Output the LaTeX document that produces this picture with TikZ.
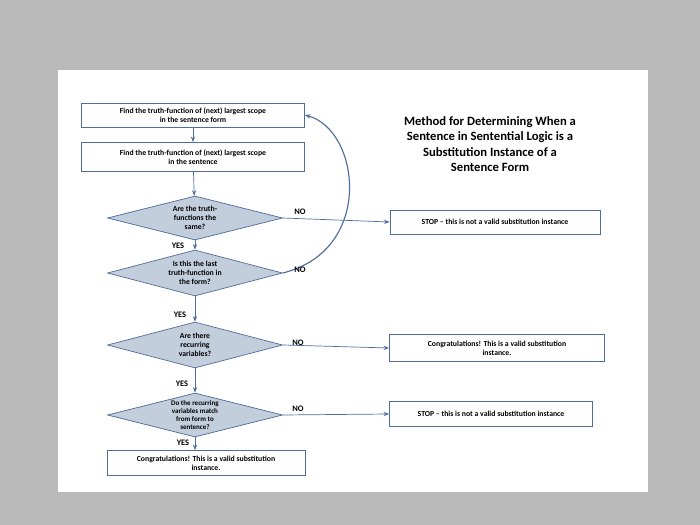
\documentclass[tikz,border=0pt]{standalone}
\usepackage{fontspec}
\setmainfont{Carlito}
\usetikzlibrary{shapes.geometric,arrows.meta}
\definecolor{ln}{HTML}{4F6E9C}
\definecolor{df}{HTML}{C3CEDC}
\begin{document}
\begin{tikzpicture}[x=0.025cm,y=-0.025cm,
  box/.style={draw=ln,fill=white,line width=0.5pt,align=center,font=\fontsize{5.5}{6.5}\selectfont\bfseries,inner sep=1pt},
  dia/.style={diamond,draw=ln,fill=df,line width=0.5pt,align=center,font=\fontsize{5.5}{6.5}\selectfont\bfseries,inner sep=0pt,aspect=4},
  lab/.style={font=\fontsize{6}{7}\selectfont\bfseries},
  arr/.style={draw=ln,line width=0.5pt,-{Stealth[length=4pt]}}]
\fill[gray!55] (0,0) rectangle (700,525);
\fill[white] (58,70) rectangle (648,492);
\useasboundingbox (0,0) rectangle (700,525);
\node[box,minimum width=223*0.025cm,minimum height=24*0.025cm] (b1) at (193,115) {Find the truth-function of (next) largest scope\\in the sentence form};
\node[box,minimum width=223*0.025cm,minimum height=29*0.025cm] (b2) at (193,157) {Find the truth-function of (next) largest scope\\in the sentence};
\node[dia,minimum width=175*0.025cm,minimum height=44*0.025cm] (d1) at (195,218) {};
\node[box,draw=none,fill=none] at (d1) {Are the truth-\\functions the\\same?};
\node[dia,minimum width=175*0.025cm,minimum height=46*0.025cm] (d2) at (195,273) {};
\node[box,draw=none,fill=none] at (d2) {Is this the last\\truth-function in\\the form?};
\node[dia,minimum width=175*0.025cm,minimum height=46*0.025cm] (d3) at (195,345) {};
\node[box,draw=none,fill=none] at (d3) {Are there\\recurring\\variables?};
\node[dia,minimum width=175*0.025cm,minimum height=44*0.025cm] (d4) at (195,415) {};
\node[box,draw=none,fill=none,font=\fontsize{5}{5.5}\selectfont\bfseries] at (d4) {Do the recurring\\variables match\\from form to\\sentence?};
\node[box,minimum width=198*0.025cm,minimum height=25*0.025cm] (b5) at (206,463) {Congratulations! This is a valid substitution\\instance.};
\node[box,minimum width=210*0.025cm,minimum height=24*0.025cm] (s1) at (495,222) {STOP -- this is not a valid substitution instance};
\node[box,minimum width=215*0.025cm,minimum height=27*0.025cm] (s2) at (497,348) {Congratulations! This is a valid substitution\\instance.};
\node[box,minimum width=203*0.025cm,minimum height=25*0.025cm] (s3) at (491,414) {STOP -- this is not a valid substitution instance};
\node[align=center,font=\fontsize{9}{11}\selectfont\bfseries] (t) at (490,144) {Method for Determining When a\\Sentence in Sentential Logic is a\\Substitution Instance of a\\Sentence Form};
\draw[arr] (b1) -- (b2);
\draw[arr] (b2) -- (d1);
\draw[arr] (d1) -- (d2);
\draw[arr] (d2) -- (d3);
\draw[arr] (d3) -- (d4);
\draw[arr] (d4.south) -- (d4.south |- b5.north);
\draw[arr] (d1.east) -- (s1.west);
\draw[arr] (d3.east) -- (s2.west);
\draw[arr] (d4.east) -- (s3.west);
\draw[arr,line width=0.8pt] (d2.east) .. controls (375,250) and (360,130) .. (b1.east);
\node[lab] (n1) at (300,212) {NO};
\node[lab] (n2) at (300,270) {NO};
\node[lab] (n3) at (298,343) {NO};
\node[lab] (n4) at (298,409) {NO};
\node[lab] (y1) at (178,246) {YES};
\node[lab] (y2) at (180,315) {YES};
\node[lab] (y3) at (182,384) {YES};
\node[lab] (y4) at (183,443) {YES};
\end{tikzpicture}
\end{document}
